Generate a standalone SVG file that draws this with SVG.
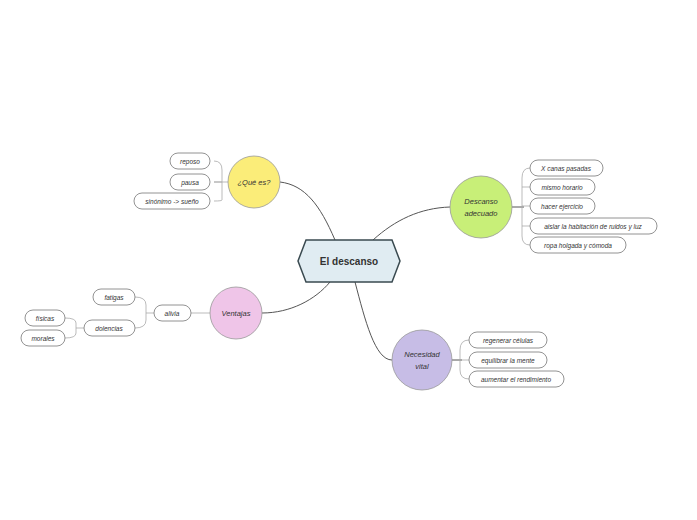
<svg xmlns="http://www.w3.org/2000/svg" width="697" height="520" viewBox="0 0 697 520">
<style>
text{font-family:"Liberation Sans",Arial,sans-serif;font-style:italic;fill:#333;text-anchor:middle;dominant-baseline:central}
.l{font-size:6.5px}
.c{font-size:7.5px}
.b{fill:#fff;stroke:#777;stroke-width:0.8}
.k{fill:none;stroke:#555;stroke-width:1}
.s{fill:none;stroke:#aaa;stroke-width:0.8}
.n{stroke:#999;stroke-width:0.8}
</style>
<rect width="697" height="520" fill="#fff"/>
<g id="connectors">
<path class="k" d="M335,240 C320,205 305,185 280,182"/>
<path class="k" d="M373,240 C395,220 420,208 450,207"/>
<path class="k" d="M330,282 C315,300 290,313 262,313"/>
<path class="k" d="M355,282 C365,320 375,360 392,360"/>
<path class="s" d="M228,182 H214 M214,161 Q222,161 222,170 V200 Q222,201 214,201 M222,182 H214"/>
<path class="k" d="M512,207 H524"/>
<path class="s" d="M530,168 Q522,168 522,178 V236 Q522,245 530,245 M522,187 H530 M522,206 H530 M522,226 H530"/>
<path class="s" d="M210,313 H191 M154,313 H146 M135,297 Q146,297 146,305 V320 Q146,328 135,328"/>
<path class="s" d="M84,328 H76 M65,318 Q76,318 76,323 V333 Q76,338 65,338"/>
<path class="k" d="M452,360 H462"/>
<path class="s" d="M469,340 Q460,340 460,350 V370 Q460,379 469,379 M460,360 H469"/>
</g>
<g id="central"><polygon points="306,240 392,240 400,261 392,282 306,282 298,261" fill="#e0ecf2" stroke="#3a4a50" stroke-width="1.5"/><text x="349" y="261" style="font-size:10px;font-weight:bold;font-style:normal">El descanso</text></g>
<g id="que"><circle cx="254" cy="182" r="26" fill="#fbed79" class="n"/><text class="c" x="254" y="182">¿Qué es?</text></g>
<g id="reposo"><rect class="b" x="170" y="153" width="40" height="16" rx="8"/><text class="l" x="190" y="161">reposo</text></g>
<g id="pausa"><rect class="b" x="170" y="174" width="40" height="16" rx="8"/><text class="l" x="190" y="182">pausa</text></g>
<g id="sinonimo"><rect class="b" x="134" y="193" width="76" height="16" rx="8"/><text class="l" x="172" y="201">sinónimo -&gt; sueño</text></g>
<g id="adecuado"><circle cx="481" cy="207" r="31" fill="#c8ef78" class="n"/><text class="c" x="481" y="201">Descanso</text><text class="c" x="481" y="213">adecuado</text></g>
<g id="x"><rect class="b" x="530" y="160" width="73" height="16" rx="8"/><text class="l" x="566" y="168">X canas pasadas</text></g>
<g id="mismo"><rect class="b" x="530" y="179" width="65" height="16" rx="8"/><text class="l" x="562" y="187">mismo horario</text></g>
<g id="hacer"><rect class="b" x="530" y="198" width="65" height="16" rx="8"/><text class="l" x="562" y="206">hacer ejercicio</text></g>
<g id="aislar"><rect class="b" x="530" y="218" width="127" height="16" rx="8"/><text class="l" x="593" y="226">aislar la habitación de ruidos y luz</text></g>
<g id="ropa"><rect class="b" x="530" y="237" width="96" height="16" rx="8"/><text class="l" x="578" y="245">ropa holgada y cómoda</text></g>
<g id="ventajas"><circle cx="236" cy="313" r="26" fill="#efc5e8" class="n"/><text class="c" x="236" y="313">Ventajas</text></g>
<g id="alivia"><rect class="b" x="154" y="305" width="37" height="16" rx="8"/><text class="l" x="172" y="313">alivia</text></g>
<g id="fatigas"><rect class="b" x="93" y="289" width="42" height="16" rx="8"/><text class="l" x="114" y="297">fatigas</text></g>
<g id="dolencias"><rect class="b" x="84" y="320" width="51" height="16" rx="8"/><text class="l" x="109" y="328">dolencias</text></g>
<g id="fisicas"><rect class="b" x="25" y="310" width="40" height="16" rx="8"/><text class="l" x="45" y="318">físicas</text></g>
<g id="morales"><rect class="b" x="21" y="330" width="44" height="16" rx="8"/><text class="l" x="43" y="338">morales</text></g>
<g id="necesidad"><circle cx="422" cy="360" r="30" fill="#c7bde6" class="n"/><text class="c" x="422" y="354">Necesidad</text><text class="c" x="422" y="366">vital</text></g>
<g id="regenerar"><rect class="b" x="469" y="332" width="78" height="16" rx="8"/><text class="l" x="508" y="340">regenerar células</text></g>
<g id="equilibrar"><rect class="b" x="469" y="352" width="78" height="16" rx="8"/><text class="l" x="508" y="360">equilibrar la mente</text></g>
<g id="aumentar"><rect class="b" x="469" y="371" width="95" height="16" rx="8"/><text class="l" x="516" y="379">aumentar el rendimiento</text></g>
</svg>
